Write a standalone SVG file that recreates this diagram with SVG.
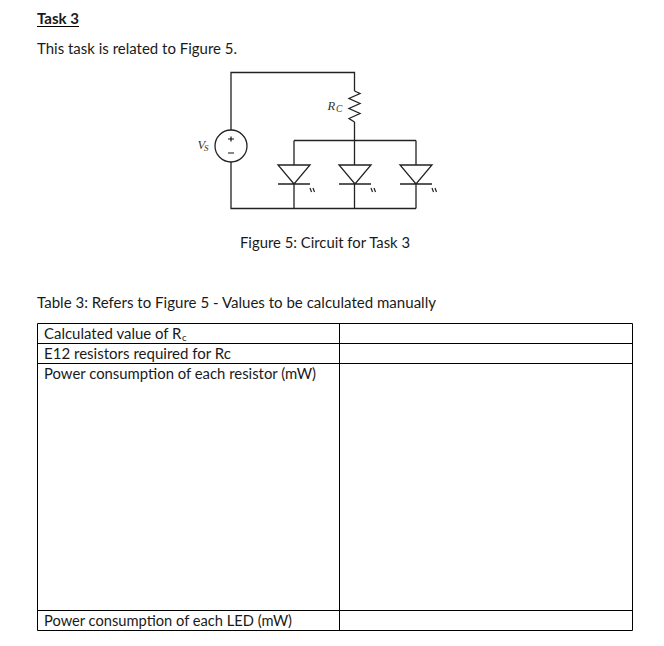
<svg xmlns="http://www.w3.org/2000/svg" width="664" height="646" viewBox="0 0 664 646">
<style>
.t{font-family:"Lato","Liberation Sans",sans-serif;font-size:14.6px;fill:#1a1a1a}
.b{font-weight:bold}
.w{fill:none;stroke:#222;stroke-width:1.3}
.g{fill:none;stroke:#000;stroke-width:1}
.m{font-family:"Liberation Serif",serif;font-style:italic;fill:#333}
.d{fill:none;stroke:#222;stroke-width:1.200}
</style>
<rect width="664" height="646" fill="#fff"/>
<g id="heading">
<text class="t b" x="37" y="24" textLength="42" lengthAdjust="spacingAndGlyphs">Task 3</text>
<line x1="37" y1="26.5" x2="79" y2="26.5" stroke="#000" stroke-width="1"/>
<text class="t" x="37" y="54" textLength="200" lengthAdjust="spacingAndGlyphs">This task is related to Figure 5.</text>
</g>
<g id="connectors">
<path class="w" d="M231 130V72.500H354.500V91M354.500 122V165M231 162V208.500H416M294 140.500H416M294 140.500V165M416 140.500V165M294 184V208.500M354.500 184V208.500M416 184V208.500"/>
</g>
<g id="resistor">
<path class="w" d="M354.500 91L360 93.500L349 98.500L360 103.500L349 108.500L360 113.500L349 118.500L354.500 122"/>
<text class="m" x="327.500" y="110" font-size="12.500">R</text>
<text class="m" x="336" y="112" font-size="9.500">C</text>
</g>
<g id="source">
<circle class="w" cx="231" cy="146" r="16"/>
<path d="M228 139H234M231 136.500V141.500M228 153H234" fill="none" stroke="#111" stroke-width="1.200"/>
<text class="m" x="197.500" y="149" font-size="12.500">V</text>
<text class="m" x="204" y="151" font-size="9">S</text>
</g>
<g id="led1">
<path class="w" d="M278 165H310L294 184ZM278 184H310"/>
<path class="d" d="M310 188L311.500 192M313 188L314.500 192"/>
</g>
<g id="led2">
<path class="w" d="M339 165H371L355 184ZM339 184H371"/>
<path class="d" d="M371 188L372.500 192M374 188L375.500 192"/>
</g>
<g id="led3">
<path class="w" d="M400 165H432L416 184ZM400 184H432"/>
<path class="d" d="M432 188L433.500 192M435 188L436.500 192"/>
</g>
<g id="captions">
<text class="t" x="240" y="248" textLength="170" lengthAdjust="spacingAndGlyphs">Figure 5: Circuit for Task 3</text>
<text class="t" x="37" y="308" textLength="399" lengthAdjust="spacingAndGlyphs">Table 3: Refers to Figure 5 - Values to be calculated manually</text>
</g>
<g id="table">
<path class="g" d="M37.500 323.500H632.500V630.500H37.500ZM37.500 343.500H632.500M37.500 363.500H632.500M37.500 610.500H632.500M339.500 323.500V630.500"/>
<text class="t" x="44" y="339" textLength="137.500" lengthAdjust="spacingAndGlyphs">Calculated value of R</text>
<text class="t" x="182" y="341" style="font-size:9.500px">c</text>
<text class="t" x="44" y="359" textLength="187" lengthAdjust="spacingAndGlyphs">E12 resistors required for Rc</text>
<text class="t" x="44" y="379" textLength="272" lengthAdjust="spacingAndGlyphs">Power consumption of each resistor (mW)</text>
<text class="t" x="44" y="626" textLength="248" lengthAdjust="spacingAndGlyphs">Power consumption of each LED (mW)</text>
</g>
</svg>
